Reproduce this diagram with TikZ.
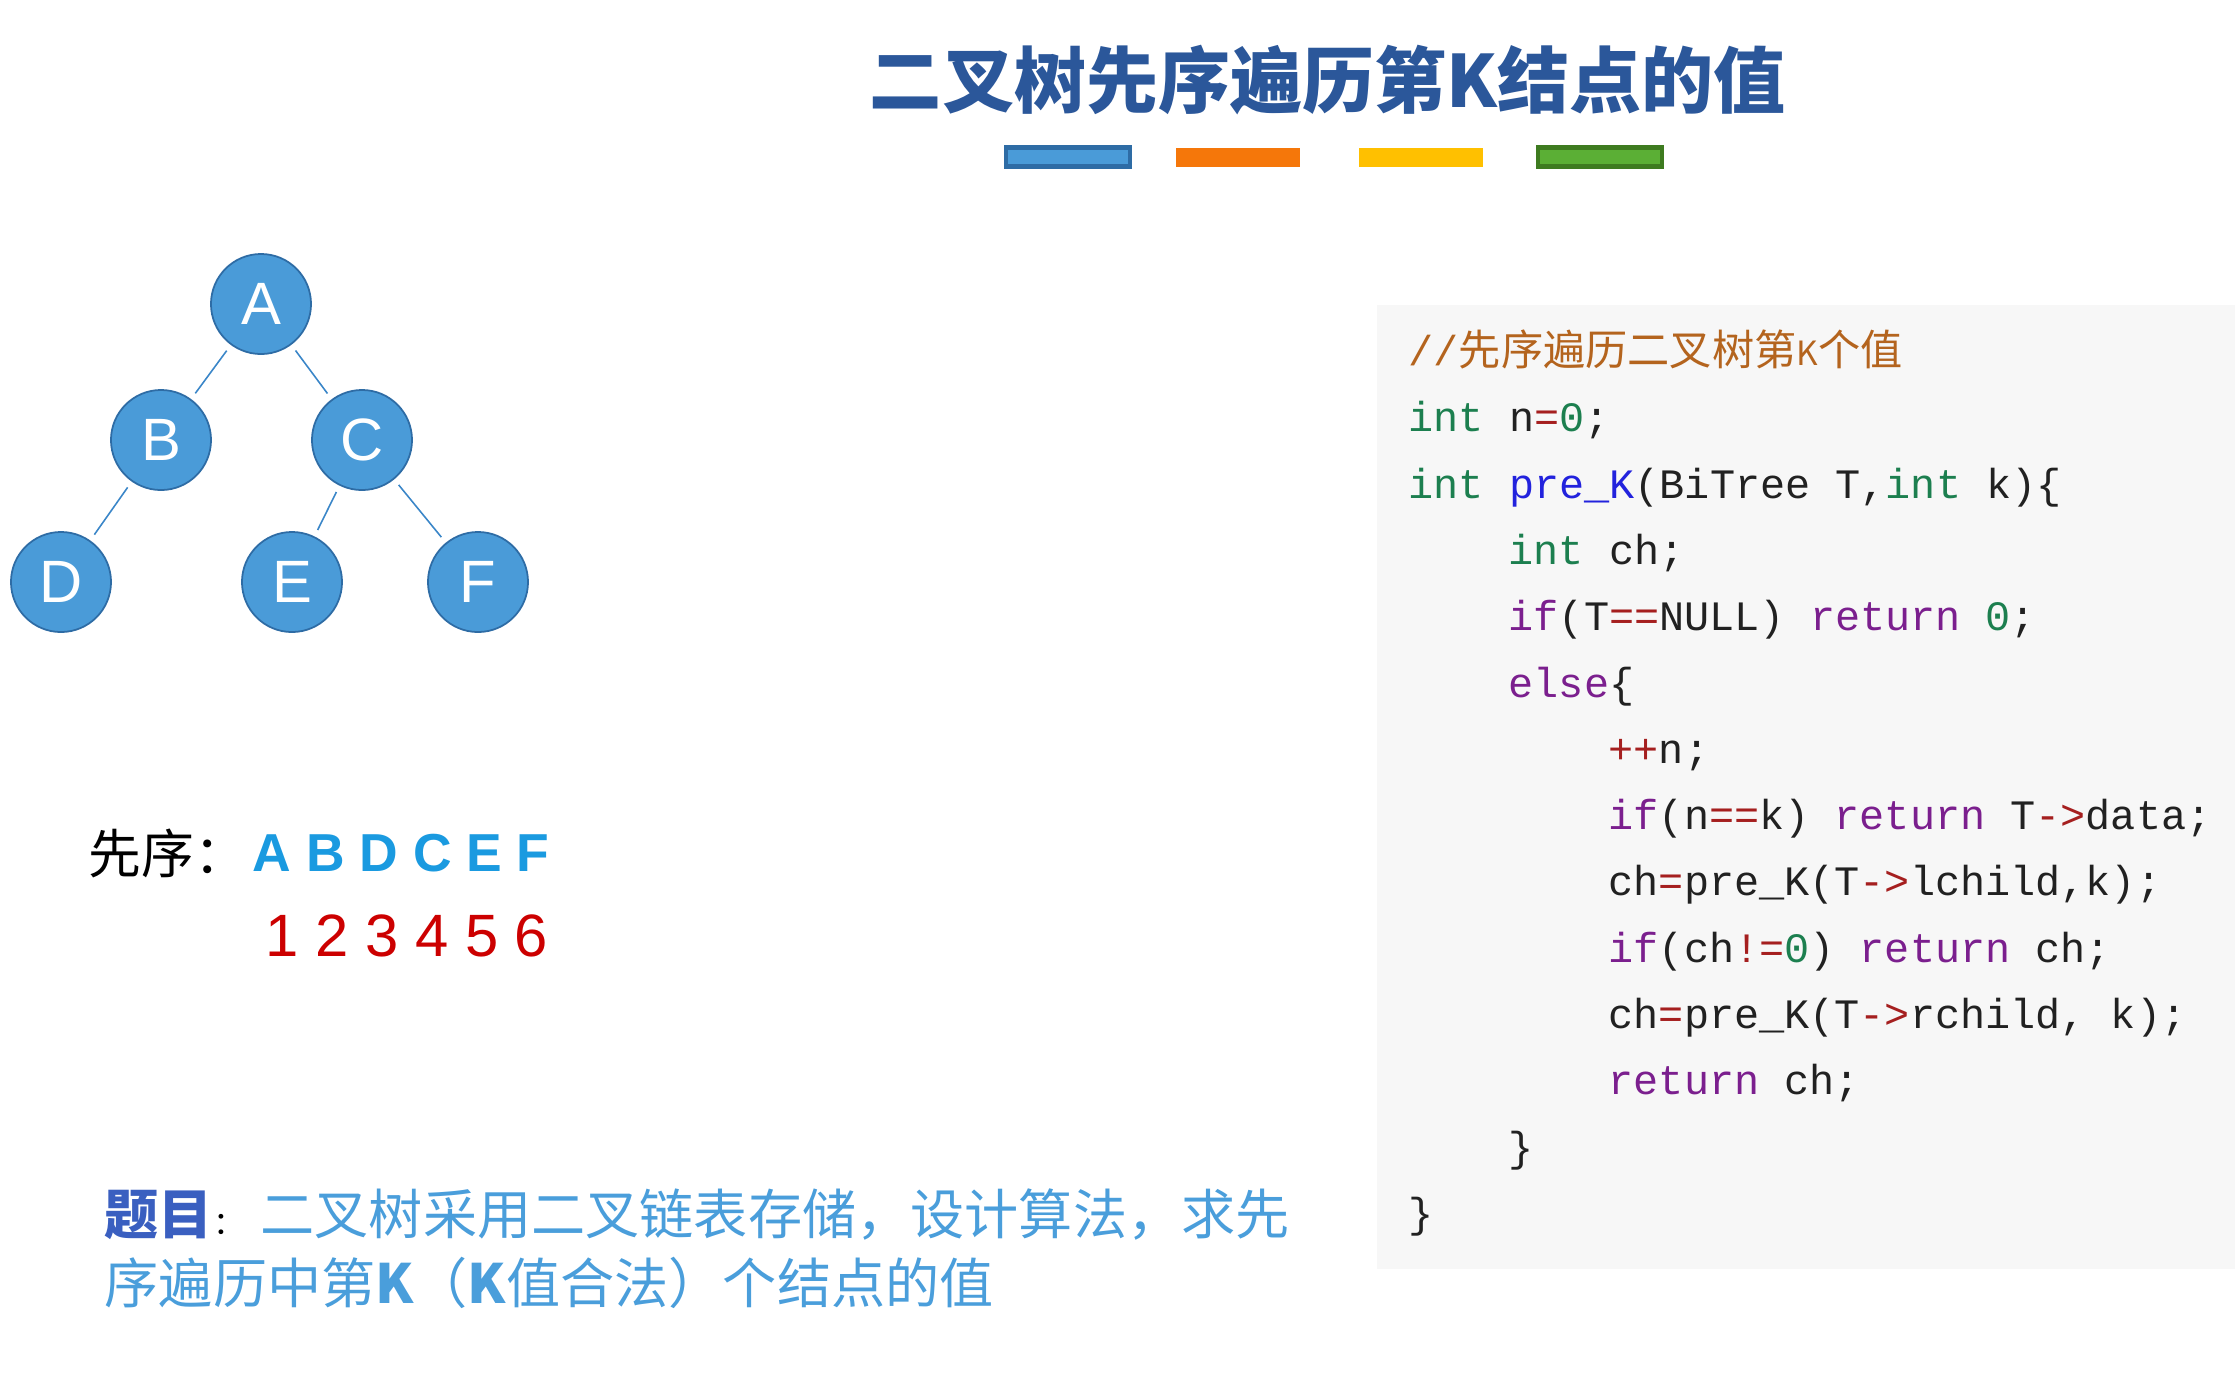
\documentclass[tikz,border=0pt]{standalone}
\usepackage{fontspec}
\usepackage{xcolor}
\usetikzlibrary{positioning}
\setmainfont{Liberation Sans}
\newfontfamily\cjk{Noto Sans CJK SC}
\newfontfamily\codefont{Liberation Mono}

\definecolor{titleblue}{HTML}{2B579A}
\definecolor{nodeblue}{HTML}{4A9BD8}
\definecolor{nodeline}{HTML}{2E6CA5}
\definecolor{edgeblue}{HTML}{3A86C8}
\definecolor{seqblue}{HTML}{1A9AE0}
\definecolor{seqred}{HTML}{CC0000}
\definecolor{codebg}{HTML}{F7F7F7}
\definecolor{cmtcol}{HTML}{B4641E}
\definecolor{tycol}{HTML}{1C7F4F}
\definecolor{fncol}{HTML}{2222DD}
\definecolor{kwcol}{HTML}{7B1F8E}
\definecolor{opcol}{HTML}{A51F1F}
\definecolor{qblue}{HTML}{4A9EDB}
\definecolor{qdark}{HTML}{3A5FC0}

\newcommand{\ty}[1]{\textcolor{tycol}{#1}}
\newcommand{\fn}[1]{\textcolor{fncol}{#1}}
\newcommand{\kw}[1]{\textcolor{kwcol}{#1}}
\newcommand{\op}[1]{\textcolor{opcol}{#1}}

\begin{document}
\begin{tikzpicture}[x=0.01cm,y=-0.01cm,%
            treenode/.style={circle, draw=nodeline, line width=0.5pt, fill=nodeblue, minimum size=1cm, inner sep=0pt, text=white, font=\fontsize{17}{20}\selectfont},
            edge/.style={draw=edgeblue, line width=0.45pt, shorten >=2pt, shorten <=2pt},
            bar/.style={minimum width=1.24cm, minimum height=0.19cm, inner sep=0pt},
            codeline/.style={anchor=base west, inner sep=0pt, text=black!87, font=\codefont\fontsize{11.9}{14}\selectfont}
        ]
        \useasboundingbox (0,0) rectangle (2235,1396);

        % Title and colour bars
        \node[text=titleblue, font=\cjk\bfseries\fontsize{20.5}{24}\selectfont] (title) at (1328,80) {二叉树先序遍历第K结点的值};
        \node[bar, fill=nodeblue, draw=nodeline, line width=1.2pt] (bar1) at (1068,157) {};
        \node[bar, fill={rgb,255:red,245;green,119;blue,10}] (bar2) at (1238,157) {};
        \node[bar, fill={rgb,255:red,255;green,192;blue,0}] (bar3) at (1421,157) {};
        \node[bar, fill={rgb,255:red,91;green,175;blue,53}, draw={rgb,255:red,62;green,123;blue,32}, line width=1.2pt] (bar4) at (1600,157) {};

        % Tree
        \node[treenode] (A) at (261,304) {A};
        \node[treenode] (B) at (161,440) {B};
        \node[treenode] (C) at (362,440) {C};
        \node[treenode] (D) at (61,582) {D};
        \node[treenode] (E) at (292,582) {E};
        \node[treenode] (F) at (478,582) {F};

        \draw[edge] (A) -- (B);
        \draw[edge] (A) -- (C);
        \draw[edge] (B) -- (D);
        \draw[edge] (C) -- (E);
        \draw[edge] (C) -- (F);

        % Preorder sequence
        \node[anchor=base west, inner sep=0pt, font=\cjk\fontsize{15}{18}\selectfont] (prelabel) at (88,873) {先序：};
        \node[anchor=base west, inner sep=0pt, text=seqblue, font=\bfseries\fontsize{15.2}{18}\selectfont] (preseq) at (252,871) {A B D C E F};
        \node[anchor=base west, inner sep=0pt, text=seqred, font=\fontsize{17}{20}\selectfont] (preidx) at (265,956) {1 2 3 4 5 6};

        % Code
        \fill[codebg] (1377,305) rectangle (2235,1269);
        \node[codeline] (code1) at (1408,365) {\textcolor{cmtcol}{//{\cjk\fontsize{12}{14}\selectfont 先序遍历二叉树第{\fontsize{9.5}{10}\selectfont K}个值}}};
        \node[codeline] (code2) at (1408,431) {\ty{int} n\op{=}\ty{0};};
        \node[codeline] (code3) at (1408,498) {\ty{int} \fn{pre\_K}(BiTree T,\ty{int} k)\{};
        \node[codeline] (code4) at (1508,564) {\ty{int} ch;};
        \node[codeline] (code5) at (1508,630) {\kw{if}(T\op{==}NULL) \kw{return} \ty{0};};
        \node[codeline] (code6) at (1508,697) {\kw{else}\{};
        \node[codeline] (code7) at (1608,763) {\op{++}n;};
        \node[codeline] (code8) at (1608,829) {\kw{if}(n\op{==}k) \kw{return} T\op{->}data;};
        \node[codeline] (code9) at (1608,895) {ch\op{=}pre\_K(T\op{->}lchild,k);};
        \node[codeline] (code10) at (1608,962) {\kw{if}(ch\op{!=}\ty{0}) \kw{return} ch;};
        \node[codeline] (code11) at (1608,1028) {ch\op{=}pre\_K(T\op{->}rchild, k);};
        \node[codeline] (code12) at (1608,1094) {\kw{return} ch;};
        \node[codeline] (code13) at (1508,1161) {\}};
        \node[codeline] (code14) at (1408,1227) {\}};

        % Question
        \node[anchor=west, inner sep=0pt, font=\cjk\fontsize{15.4}{18}\selectfont] (q1) at (104,1214) {\textcolor{qdark}{\bfseries 题目}\textcolor{black}{\fontsize{9}{10}\selectfont ：}\hspace{0.16cm}\textcolor{qblue}{二叉树采用二叉链表存储，设计算法，求先}};
        \node[anchor=west, inner sep=0pt, text=qblue, font=\cjk\fontsize{15.4}{18}\selectfont] (q2) at (104,1283) {序遍历中第{\bfseries K}（{\bfseries K}值合法）个结点的值};

        \end{tikzpicture}
\end{document}
